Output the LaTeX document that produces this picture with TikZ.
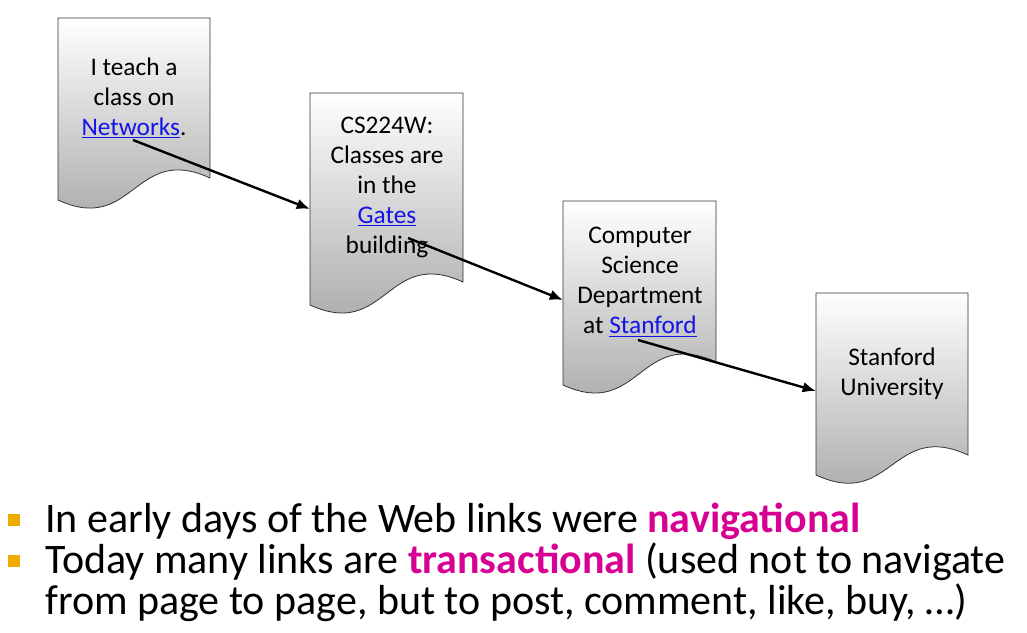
\documentclass[tikz,border=0pt]{standalone}
\usepackage{fontspec}
\setmainfont{Carlito}
\usetikzlibrary{arrows.meta}
\definecolor{lnk}{RGB}{20,20,230}
\definecolor{mag}{RGB}{214,0,147}
\definecolor{bul}{RGB}{240,170,0}
\newcommand\lk[1]{\textcolor{lnk}{\underline{#1}}}
\newcommand\docpath[5]{% x1 y1 x2 yL yR
  \shade[top color=white,bottom color=black!35,draw=black!80,line width=0.6pt]
  (#1,#2) -- (#3,#2) -- (#3,#5) .. controls ({(#1+#3)/2},{#5-35}) and ({(#1+#3)/2},{#4+35}) .. (#1,#4) -- cycle;}
\begin{document}
\begin{tikzpicture}[x=0.75pt,y=-0.75pt,
  dtext/.style={align=center,font=\fontsize{19}{22.5}\selectfont},
  btext/.style={anchor=west,align=left,font=\fontsize{31.5}{30.75}\selectfont,inner sep=0},
  link/.style={-{Latex[length=10pt,width=8pt]},line width=1.8pt}]
\useasboundingbox (0,0) rectangle (1027,632);
\docpath{58}{18}{210}{200}{178}
\docpath{310}{93}{463}{305}{282}
\docpath{563}{201}{716}{385}{362}
\docpath{816}{293}{968}{475}{455}
\node[dtext] (t1) at (134,98) {I teach a\\class on\\\lk{Networks}.};
\node[dtext] (t2) at (387,187) {CS224W:\\Classes are\\in the\\\lk{Gates}\\building};
\node[dtext] (t3) at (640,282) {Computer\\Science\\Department\\at \lk{Stanford}};
\node[dtext] (t4) at (892,374) {Stanford\\University};
\coordinate (a1) at (133,140); \coordinate (b1) at (310,209);
\coordinate (a2) at (408,238); \coordinate (b2) at (563,300);
\coordinate (a3) at (638,340); \coordinate (b3) at (816,391);
\draw[link] (a1) -- (b1);
\draw[link] (a2) -- (b2);
\draw[link] (a3) -- (b3);
\fill[bul] (8,514) rectangle (20,526);
\fill[bul] (8,555) rectangle (20,567);
\node[btext] (l1) at (45,521) {In early days of the Web links were \textcolor{mag}{\textbf{navigational}}};
\node[btext] (l2) at (45,582) {Today many links are \textcolor{mag}{\textbf{transactional}} (used not to navigate\\from page to page, but to post, comment, like, buy, …)};
\end{tikzpicture}
\end{document}
